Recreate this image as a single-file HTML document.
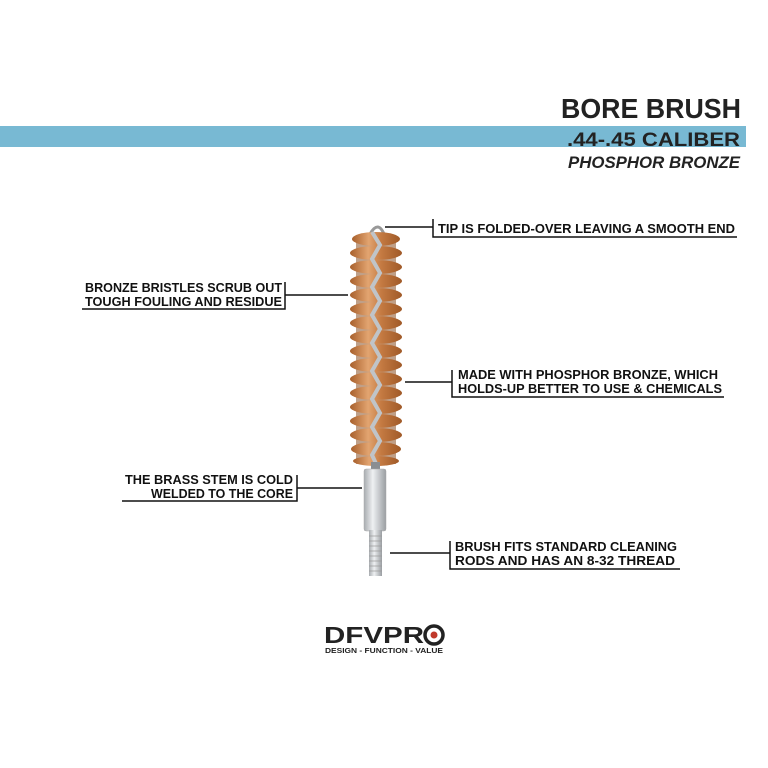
<!DOCTYPE html>
<html><head><style>html,body{margin:0;padding:0;background:#fff}svg{display:block}</style></head>
<body>
<svg width="768" height="768" viewBox="0 0 768 768" xmlns="http://www.w3.org/2000/svg" font-family="Liberation Sans, sans-serif" font-weight="bold">
<defs>
<linearGradient id="br" x1="0" x2="1"><stop offset="0" stop-color="#a8602c"/><stop offset="0.35" stop-color="#e2a470"/><stop offset="0.6" stop-color="#c47a42"/><stop offset="1" stop-color="#a05a28"/></linearGradient>
<linearGradient id="st" x1="0" x2="1"><stop offset="0" stop-color="#a8acb0"/><stop offset="0.4" stop-color="#eef0f2"/><stop offset="1" stop-color="#9a9ea2"/></linearGradient>
</defs>
<rect width="768" height="768" fill="#fff"/>
<text x="741" y="118" font-size="28" text-anchor="end" fill="#222" textLength="180" lengthAdjust="spacingAndGlyphs">BORE BRUSH</text>
<rect x="0" y="126" width="746" height="21" fill="#78b9d3"/>
<text x="740" y="146" font-size="19" text-anchor="end" fill="#222" textLength="173" lengthAdjust="spacingAndGlyphs">.44-.45 CALIBER</text>
<text x="740" y="168" font-size="17" font-style="italic" text-anchor="end" fill="#222" textLength="172" lengthAdjust="spacingAndGlyphs">PHOSPHOR BRONZE</text>

<g>
<path d="M370 234 Q378 220 384 234" stroke="#999" stroke-width="3" fill="none"/>
<rect x="356" y="236" width="40" height="228" fill="#8a5228" opacity="0.55"/>
<g fill="url(#br)">
<ellipse cx="376" cy="239" rx="24" ry="7"/><ellipse cx="376" cy="253" rx="26" ry="7"/><ellipse cx="376" cy="267" rx="26" ry="7"/>
<ellipse cx="376" cy="281" rx="26" ry="7"/><ellipse cx="376" cy="295" rx="26" ry="7"/><ellipse cx="376" cy="309" rx="26" ry="7"/>
<ellipse cx="376" cy="323" rx="26" ry="7"/><ellipse cx="376" cy="337" rx="26" ry="7"/><ellipse cx="376" cy="351" rx="26" ry="7"/>
<ellipse cx="376" cy="365" rx="26" ry="7"/><ellipse cx="376" cy="379" rx="26" ry="7"/><ellipse cx="376" cy="393" rx="26" ry="7"/>
<ellipse cx="376" cy="407" rx="26" ry="7"/><ellipse cx="376" cy="421" rx="26" ry="7"/><ellipse cx="376" cy="435" rx="26" ry="7"/>
<ellipse cx="376" cy="449" rx="25" ry="7"/><ellipse cx="376" cy="461" rx="23" ry="5"/>
</g>
<path d="M372 232 L380 245 L372 259 L380 273 L372 287 L380 301 L372 315 L380 329 L372 343 L380 357 L372 371 L380 385 L372 399 L380 413 L372 427 L380 441 L372 455 L378 468" stroke="#c0c4c8" stroke-width="4" fill="none"/>
<rect x="371" y="462" width="9" height="8" fill="#8a8e92"/>
<rect x="364" y="469" width="22" height="62" rx="2" fill="url(#st)" stroke="#aaa" stroke-width="0.5"/>
<rect x="369" y="530" width="13" height="46" fill="url(#st)"/>
<g stroke="#999" stroke-width="0.7"><line x1="369" y1="536" x2="382" y2="536"/><line x1="369" y1="541" x2="382" y2="541"/><line x1="369" y1="546" x2="382" y2="546"/><line x1="369" y1="551" x2="382" y2="551"/><line x1="369" y1="556" x2="382" y2="556"/><line x1="369" y1="561" x2="382" y2="561"/><line x1="369" y1="566" x2="382" y2="566"/><line x1="369" y1="571" x2="382" y2="571"/></g>
</g>

<g stroke="#111" stroke-width="1.5" fill="none">
<path d="M385 227 H433 M433 219 V237 H737"/>
<path d="M285 295 H348 M285 282 V309 H82"/>
<path d="M405 382 H452 M452 370 V397 H724"/>
<path d="M297 488 H362 M297 475 V501 H122"/>
<path d="M390 553 H450 M450 541 V569 H680"/>
</g>
<g font-size="12.5" fill="#111">
<text x="438" y="233" textLength="297" lengthAdjust="spacingAndGlyphs">TIP IS FOLDED-OVER LEAVING A SMOOTH END</text>
<text x="85" y="292" textLength="197" lengthAdjust="spacingAndGlyphs">BRONZE BRISTLES SCRUB OUT</text>
<text x="85" y="306" textLength="197" lengthAdjust="spacingAndGlyphs">TOUGH FOULING AND RESIDUE</text>
<text x="458" y="379" textLength="260" lengthAdjust="spacingAndGlyphs">MADE WITH PHOSPHOR BRONZE, WHICH</text>
<text x="458" y="393" textLength="264" lengthAdjust="spacingAndGlyphs">HOLDS-UP BETTER TO USE &amp; CHEMICALS</text>
<text x="293" y="484" text-anchor="end" textLength="168" lengthAdjust="spacingAndGlyphs">THE BRASS STEM IS COLD</text>
<text x="293" y="498" text-anchor="end" textLength="142" lengthAdjust="spacingAndGlyphs">WELDED TO THE CORE</text>
<text x="455" y="551" textLength="222" lengthAdjust="spacingAndGlyphs">BRUSH FITS STANDARD CLEANING</text>
<text x="455" y="565" textLength="220" lengthAdjust="spacingAndGlyphs">RODS AND HAS AN 8-32 THREAD</text>
</g>

<text x="324" y="643" font-size="23" fill="#222" textLength="100" lengthAdjust="spacingAndGlyphs">DFVPR</text>
<circle cx="434" cy="635" r="9" fill="none" stroke="#222" stroke-width="3.5"/>
<circle cx="434" cy="635" r="3.5" fill="#c0392b"/>
<text x="325" y="653" font-size="7" fill="#222" textLength="118" lengthAdjust="spacingAndGlyphs">DESIGN - FUNCTION - VALUE</text>
</svg>
</body></html>
